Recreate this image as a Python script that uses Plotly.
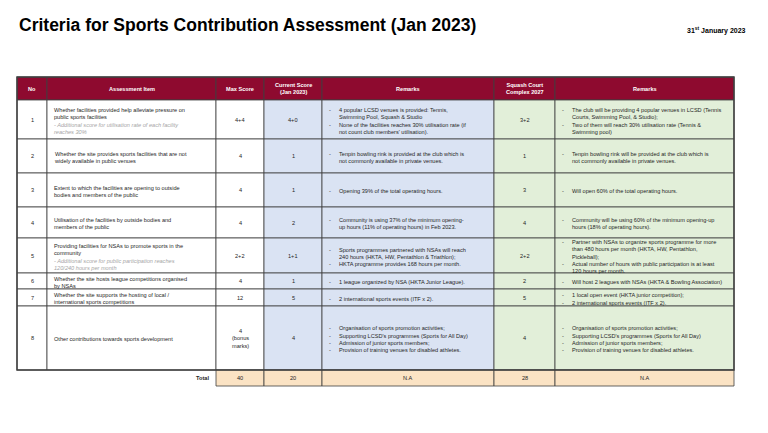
import plotly.graph_objects as go

title = "Criteria for Sports Contribution Assessment (Jan 2023)"
date_text = "31<sup>st</sup> January 2023"
headers = ["No", "Assessment Item", "Max Score", "Current Score<br>(Jan 2023)", "Remarks",
           "Squash Court<br>Complex 2027", "Remarks"]
nos = ["1", "2", "3", "4", "5", "6", "7", "8"]
items = [
    ["Whether facilities provided help alleviate pressure on", "public sports facilities"],
    ["Whether the site provides sports facilities that are not", "widely available in public venues"],
    ["Extent to which the facilities are opening to outside", "bodies and members of the public"],
    ["Utilisation of the facilities by outside bodies and", "members of the public"],
    ["Providing facilities for NSAs to promote sports in the", "community"],
    ["Whether the site hosts league competitions organised", "by NSAs"],
    ["Whether the site supports the hosting of local /", "international sports competitions"],
    ["Other contributions towards sports development"],
]
item_notes = [
    ["- Additional score for utilisation rate of each facility", "reaches 30%"],
    [], [], [],
    ["- Additional score for public participation reaches", "120/240 hours per month"],
    [], [], [],
]
max_scores = ["4+4", "4", "4", "4", "2+2", "4", "12", "4<br>(bonus<br>marks)"]
current_scores = ["4+0", "1", "1", "2", "1+1", "1", "5", "4"]
remarks_current = [
    [["4 popular LCSD venues is provided: Tennis,", "Swimming Pool, Squash & Studio"],
     ["None of the facilities reaches 30% utilisation rate (if", "not count club members' utilisation)."]],
    [["Tenpin bowling rink is provided at the club which is", "not commonly available in private venues."]],
    [["Opening 39% of the total operating hours."]],
    [["Community is using 37% of the minimum opening-", "up hours (11% of operating hours) in Feb 2023."]],
    [["Sports programmes partnered with NSAs will reach", "240 hours (HKTA, HW, Pentathlon & Triathlon);"],
     ["HKTA programme provides 168 hours per month."]],
    [["1 league organized by NSA (HKTA Junior League)."]],
    [["2 international sports events (ITF x 2)."]],
    [["Organisation of sports promotion activities;"], ["Supporting LCSD's programmes (Sports for All Day)"],
     ["Admission of junior sports members;"], ["Provision of training venues for disabled athletes."]],
]
squash_scores = ["3+2", "1", "3", "4", "2+2", "2", "5", "4"]
remarks_squash = [
    [["The club will be providing 4 popular venues in LCSD (Tennis", "Courts, Swimming Pool, & Studio);"],
     ["Two of them will reach 30% utilisation rate (Tennis &", "Swimming pool)"]],
    [["Tenpin bowling rink will be provided at the club which is", "not commonly available in private venues."]],
    [["Will open 60% of the total operating hours."]],
    [["Community will be using 60% of the minimum opening-up", "hours (18% of operating hours)."]],
    [["Partner with NSAs to organize sports programme for more", "than 480 hours per month (HKTA, HW, Pentathlon,", "Pickleball);"],
     ["Actual number of hours with public participation is at least", "120 hours per month."]],
    [["Will host 2 leagues with NSAs (HKTA & Bowling Association)"]],
    [["1 local open event (HKTA junior competition);"], ["2 international sports events (ITF x 2)."]],
    [["Organisation of sports promotion activities;"], ["Supporting LCSD's programmes (Sports for All Day)"],
     ["Admission of junior sports members;"], ["Provision of training venues for disabled athletes."]],
]
totals = ["40", "20", "N.A", "28", "N.A"]

# layout geometry (pixels); page body margin offsets by 8px
OFF = 8
cols = [v - OFF for v in [17, 47, 216, 264, 322, 494, 555, 734]]
rows = [v - OFF for v in [77, 100, 139, 173, 207, 238, 273, 289, 306, 370, 386]]
HDR = "#8E0A2F"
BLUE = "#DAE3F3"
GREEN = "#E2EFD9"
BEIGE = "#FBE3C4"
LINE = "#404040"
FONT = "Liberation Sans"
FS = 5.6
LH = 7.3

fig = go.Figure()
fig.add_trace(go.Scatter(x=[0, 768], y=[0, 433], mode="markers", marker=dict(opacity=0), hoverinfo="skip"))
shapes, ann = [], []

def rect(x0, y0, x1, y1, fill, lw=0.8):
    shapes.append(dict(type="rect", xref="x", yref="y", x0=x0, x1=x1, y0=y0, y1=y1,
                       fillcolor=fill, line=dict(color=LINE, width=lw), layer="below"))

def text(x, y, s, anchor="center", color="#262626", size=FS, bold=False, yanchor="middle"):
    if bold:
        s = "<b>" + s + "</b>"
    ann.append(dict(x=x, y=y, xref="x", yref="y", text=s, showarrow=False, xanchor=anchor,
                    yanchor=yanchor, align=anchor if anchor != "center" else "center",
                    font=dict(family=FONT, size=size, color=color)))

for i, h in enumerate(headers):
    rect(cols[i], rows[0], cols[i + 1], rows[1], HDR)
    text((cols[i] + cols[i + 1]) / 2, (rows[0] + rows[1]) / 2, h, color="white", bold=True)

def bullets(x0, y0, y1, blist):
    n = sum(len(b) for b in blist)
    top = (y0 + y1) / 2 - n * LH / 2
    k = 0
    for b in blist:
        yb = top + k * LH
        text(x0 + 5, yb, "-", anchor="left", yanchor="top")
        text(x0 + 15, yb, "<br>".join(b), anchor="left", yanchor="top")
        k += len(b)

for r in range(len(nos)):
    y0, y1 = rows[r + 1], rows[r + 2]
    ym = (y0 + y1) / 2
    fills = ["white", "white", "white", BLUE, BLUE, GREEN, GREEN]
    for c in range(7):
        rect(cols[c], y0, cols[c + 1], y1, fills[c])
    text((cols[0] + cols[1]) / 2, ym, nos[r])
    lines = items[r] + item_notes[r]
    s = "<br>".join(items[r])
    if item_notes[r]:
        s += "<br>" + "<br>".join("<i><span style='color:#A6A6A6'>%s</span></i>" % t for t in item_notes[r])
    text(cols[1] + 5, ym - len(lines) * LH / 2, s, anchor="left", yanchor="top")
    text((cols[2] + cols[3]) / 2, ym, max_scores[r])
    text((cols[3] + cols[4]) / 2, ym, current_scores[r])
    bullets(cols[4], y0, y1, remarks_current[r])
    text((cols[5] + cols[6]) / 2, ym, squash_scores[r])
    bullets(cols[6], y0, y1, remarks_squash[r])

y0, y1 = rows[-2], rows[-1]
text(cols[2] - 5, (y0 + y1) / 2, "Total", anchor="right", bold=True)
for i, t in enumerate(totals):
    rect(cols[i + 2], y0, cols[i + 3], y1, BEIGE)
    text((cols[i + 2] + cols[i + 3]) / 2, (y0 + y1) / 2, t)

shapes.append(dict(type="rect", xref="x", yref="y", x0=cols[0], x1=cols[-1], y0=rows[0], y1=rows[-2],
                   line=dict(color=LINE, width=1.5), layer="above"))

text(17 - OFF, 25 - OFF, title, anchor="left", size=17.5, bold=True, color="black")
text(748 - OFF, 30 - OFF, date_text, anchor="right", size=7, bold=True, color="black")

fig.update_layout(width=768, height=433, margin=dict(l=0, r=0, t=0, b=0),
                  plot_bgcolor="white", paper_bgcolor="white", showlegend=False,
                  xaxis=dict(range=[0, 768], visible=False, fixedrange=True),
                  yaxis=dict(range=[433, 0], visible=False, fixedrange=True),
                  shapes=shapes, annotations=ann)
fig.write_html("out.html")
